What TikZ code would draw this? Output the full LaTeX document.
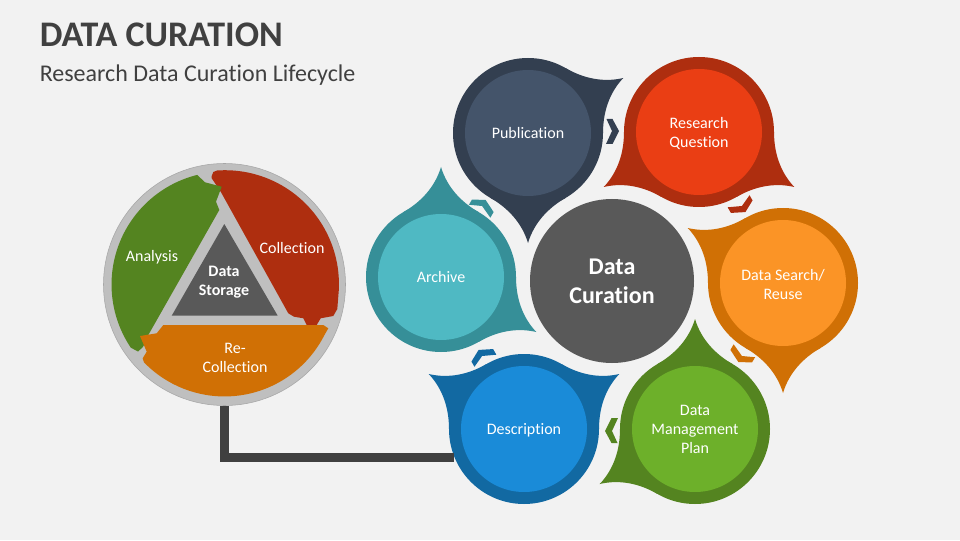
\documentclass[tikz,border=0pt]{standalone}
\usepackage{fontspec}
\setmainfont{Carlito}[Ligatures=NoCommon]
\usetikzlibrary{positioning}
\definecolor{pagebg}{HTML}{F2F2F2}
\definecolor{inktext}{HTML}{404040}
\definecolor{hubgrey}{HTML}{595959}
\definecolor{ringgrey}{HTML}{BFBFBF}
\definecolor{pubdark}{HTML}{333F50}
\definecolor{publight}{HTML}{44546A}
\definecolor{resdark}{HTML}{AE2E0F}
\definecolor{reslight}{HTML}{EA3E14}
\definecolor{seadark}{HTML}{D07005}
\definecolor{sealight}{HTML}{FB9426}
\definecolor{mandark}{HTML}{548420}
\definecolor{manlight}{HTML}{6DB02A}
\definecolor{desdark}{HTML}{1269A2}
\definecolor{deslight}{HTML}{1A8BD8}
\definecolor{arcdark}{HTML}{368F98}
\definecolor{arclight}{HTML}{4FB9C3}
\tikzset{outerdisc/.style = {circle, inner sep=0pt, minimum size=112.5pt},
         innerdisc/.style = {circle, inner sep=0pt, minimum size=94.5pt, align=center,
                             text=white, font=\fontsize{12}{14.25}\selectfont},
         lowtext/.style   = {text height=#1},
         seglabel/.style  = {text=white, align=center, inner sep=0pt,
                             font=\fontsize{12}{14.25}\selectfont}}
\newcommand{\droptip}[3]{%
  \fill [#3, shift={(#1)}, rotate=#2] (65, 37.5) .. controls (75, 20) and (90, 6) .. (110, 0)
    .. controls (90, -6) and (75, -20) .. (65, -37.5) -- cycle;}

\begin{document}
\begin{tikzpicture}[x=0.75pt, y=0.75pt]
      \useasboundingbox (0, 0) rectangle (960, 540);
      \fill [pagebg] (0, 0) rectangle (960, 540);
      \node [anchor=west, inner sep=0pt, text=inktext, font=\fontsize{27}{30}\selectfont\bfseries] (title) at (39.5, 505) {DATA CURATION};
      \node [anchor=west, inner sep=0pt, text=inktext, font=\fontsize{18}{21}\selectfont] (subtitle) at (39.5, 465) {Research Data Curation Lifecycle};
      % lifecycle discs
      \node [outerdisc, fill=pubdark] (pubring) at (528, 407) {};
      \node [outerdisc, fill=resdark] (resring) at (699, 408) {};
      \node [outerdisc, fill=seadark] (searing) at (783, 257) {};
      \node [outerdisc, fill=mandark] (manring) at (695, 111) {};
      \node [outerdisc, fill=desdark] (desring) at (524, 111) {};
      \node [outerdisc, fill=arcdark] (arcring) at (441, 263) {};
      \droptip{pubring}{30}{pubdark}
      \droptip{pubring}{-90}{pubdark}
      \droptip{resring}{210}{resdark}
      \droptip{resring}{-30}{resdark}
      \droptip{searing}{150}{seadark}
      \droptip{searing}{-90}{seadark}
      \droptip{manring}{90}{mandark}
      \droptip{manring}{210}{mandark}
      \droptip{desring}{150}{desdark}
      \droptip{desring}{30}{desdark}
      \droptip{arcring}{90}{arcdark}
      \droptip{arcring}{-30}{arcdark}
      \node [innerdisc, fill=publight] (pub) at (pubring) {Publication};
      \node [innerdisc, lowtext=24.5pt, fill=reslight] (res) at (resring) {Research\\Question};
      \node [innerdisc, lowtext=24.5pt, fill=sealight] (sea) at (searing) {Data Search/\\Reuse};
      \node [innerdisc, fill=manlight] (man) at (manring) {Data\\Management\\Plan};
      \node [innerdisc, lowtext=10pt, fill=deslight] (des) at (desring) {Description};
      \node [innerdisc, fill=arclight] (arc) at (arcring) {Archive};
      \node [circle, inner sep=0pt, minimum size=123pt, fill=hubgrey, text=white, align=center,
             font=\fontsize{18}{21.75}\selectfont\bfseries] (hub) at (612, 259) {Data\\Curation};
      % small chevrons between the discs
      \foreach \chevcol [count=\i from 0] in {pubdark, resdark, seadark, mandark, desdark, arcdark} {
        \fill [\chevcol, rotate around={-60*\i:(hub)}] (606.5, 421) -- (612.5, 421) -- (619, 409)
          -- (612.5, 396) -- (606, 396) -- (612, 409) -- cycle;
      }
      % storage wheel
      \node [circle, inner sep=0pt, minimum size=181.5pt, fill=ringgrey, draw=black!35] (wheel) at (224.5, 255.5) {};
      \draw [inktext, line width=6.75pt] (wheel.south) |- (desring.202);
      \fill [resdark] (211.7, 361.7) -- (211.7, 364) -- (213.3, 368) -- (217, 369.5)
        arc [start angle=94, end angle=-3, radius=114] -- (337.3, 231) -- (333.3, 224)
        -- (320.7, 221.7) -- (316.7, 215) -- (306.7, 215) -- (303.3, 221.7) -- (294, 223.3)
        -- (288.3, 226.7) -- (220.7, 348.3) -- cycle;
      \fill [mandark] (197.2, 365.1) arc [start angle=104, end angle=214, radius=113]
        -- (138, 188.5) -- (143, 193) -- (148.3, 205) -- (219.3, 330) -- (216, 338.3)
        -- (221.7, 353.3) -- (205, 357.7) -- cycle;
      \fill [seadark] (163.3, 215) -- (323.3, 215) -- (328.3, 211.7) -- (324.3, 204.7)
        arc [start angle=-27, end angle=-136, radius=112] -- (142.7, 181.7) -- (146.7, 188.3)
        -- (140, 204) -- (156.7, 206.7) -- cycle;
      \fill [hubgrey] (224.3, 316) -- (171.7, 224.3) -- (277.7, 224.3) -- cycle;
      \node [seglabel] (analysis) at (152, 283) {Analysis};
      \node [seglabel] (collection) at (292, 292) {Collection};
      \node [seglabel] (recollection) at (235, 182) {Re-\\Collection};
      \node [seglabel, font=\fontsize{12}{14.25}\selectfont\bfseries] (storage) at (224, 258) {Data\\Storage};
    \end{tikzpicture}
\end{document}
